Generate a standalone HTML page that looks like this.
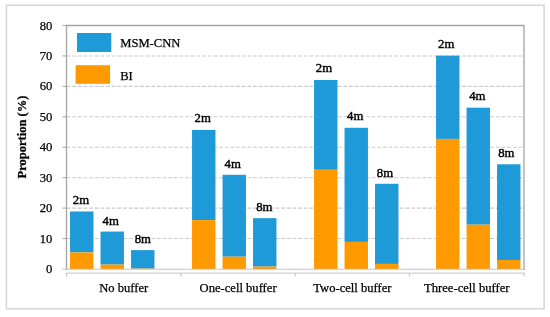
<!DOCTYPE html>
<html><head><meta charset="utf-8"><title>Proportion chart</title>
<style>html,body{margin:0;padding:0;background:#fff}svg{display:block}text{font-family:"Liberation Serif",serif;stroke:#000;stroke-width:0.25px}</style></head>
<body>
<svg width="550" height="317" viewBox="0 0 550 317">
<rect x="0" y="0" width="550" height="317" fill="#fff"/>
<rect x="6.4" y="5.3" width="537.7" height="303.5" fill="none" stroke="#d6d6d6" stroke-width="1.5"/>
<line x1="66.5" y1="238.56" x2="524.0" y2="238.56" stroke="#cbcbcb" stroke-width="1.1" stroke-dasharray="3.9 1.75"/>
<line x1="66.5" y1="208.12" x2="524.0" y2="208.12" stroke="#cbcbcb" stroke-width="1.1" stroke-dasharray="3.9 1.75"/>
<line x1="66.5" y1="177.69" x2="524.0" y2="177.69" stroke="#cbcbcb" stroke-width="1.1" stroke-dasharray="3.9 1.75"/>
<line x1="66.5" y1="147.25" x2="524.0" y2="147.25" stroke="#cbcbcb" stroke-width="1.1" stroke-dasharray="3.9 1.75"/>
<line x1="66.5" y1="116.81" x2="524.0" y2="116.81" stroke="#cbcbcb" stroke-width="1.1" stroke-dasharray="3.9 1.75"/>
<line x1="66.5" y1="86.38" x2="524.0" y2="86.38" stroke="#cbcbcb" stroke-width="1.1" stroke-dasharray="3.9 1.75"/>
<line x1="66.5" y1="55.94" x2="524.0" y2="55.94" stroke="#cbcbcb" stroke-width="1.1" stroke-dasharray="3.9 1.75"/>
<rect x="77" y="33" width="34.3" height="19" fill="#1e9ad8"/>
<rect x="75.6" y="65.2" width="34.5" height="18.6" fill="#ff9900"/>
<text x="120.2" y="46.7" font-size="12.6" fill="#000">MSM-CNN</text>
<text x="120.2" y="79.5" font-size="12.6" fill="#000">BI</text>
<rect x="70.05" y="211.47" width="23.4" height="40.94" fill="#1e9ad8"/>
<rect x="70.05" y="252.41" width="23.4" height="16.59" fill="#ff9900"/>
<text transform="translate(81.00,203.55) scale(0.98,1)" font-size="13" text-anchor="middle" fill="#000" style="stroke-width:0.42px">2m</text>
<rect x="100.55" y="231.56" width="23.4" height="33.02" fill="#1e9ad8"/>
<rect x="100.55" y="264.59" width="23.4" height="4.41" fill="#ff9900"/>
<text transform="translate(110.70,224.75) scale(0.98,1)" font-size="13" text-anchor="middle" fill="#000" style="stroke-width:0.42px">4m</text>
<rect x="131.05" y="250.13" width="23.4" height="18.51" fill="#1e9ad8"/>
<rect x="131.05" y="268.63" width="23.4" height="0.37" fill="#ff9900"/>
<text transform="translate(142.85,242.55) scale(0.98,1)" font-size="13" text-anchor="middle" fill="#000" style="stroke-width:0.42px">8m</text>
<rect x="192.05" y="129.90" width="23.4" height="90.19" fill="#1e9ad8"/>
<rect x="192.05" y="220.09" width="23.4" height="48.91" fill="#ff9900"/>
<text transform="translate(202.70,122.05) scale(0.98,1)" font-size="13" text-anchor="middle" fill="#000" style="stroke-width:0.42px">2m</text>
<rect x="222.55" y="174.80" width="23.4" height="81.91" fill="#1e9ad8"/>
<rect x="222.55" y="256.70" width="23.4" height="12.30" fill="#ff9900"/>
<text transform="translate(232.70,167.85) scale(0.98,1)" font-size="13" text-anchor="middle" fill="#000" style="stroke-width:0.42px">4m</text>
<rect x="253.05" y="218.17" width="23.4" height="48.40" fill="#1e9ad8"/>
<rect x="253.05" y="266.56" width="23.4" height="2.44" fill="#ff9900"/>
<text transform="translate(264.30,211.25) scale(0.98,1)" font-size="13" text-anchor="middle" fill="#000" style="stroke-width:0.42px">8m</text>
<rect x="314.05" y="79.98" width="23.4" height="89.79" fill="#1e9ad8"/>
<rect x="314.05" y="169.77" width="23.4" height="99.23" fill="#ff9900"/>
<text transform="translate(324.00,71.95) scale(0.98,1)" font-size="13" text-anchor="middle" fill="#000" style="stroke-width:0.42px">2m</text>
<rect x="344.55" y="127.77" width="23.4" height="114.14" fill="#1e9ad8"/>
<rect x="344.55" y="241.91" width="23.4" height="27.09" fill="#ff9900"/>
<text transform="translate(355.20,120.15) scale(0.98,1)" font-size="13" text-anchor="middle" fill="#000" style="stroke-width:0.42px">4m</text>
<rect x="375.05" y="183.78" width="23.4" height="80.14" fill="#1e9ad8"/>
<rect x="375.05" y="263.92" width="23.4" height="5.08" fill="#ff9900"/>
<text transform="translate(384.90,177.25) scale(0.98,1)" font-size="13" text-anchor="middle" fill="#000" style="stroke-width:0.42px">8m</text>
<rect x="436.05" y="55.63" width="23.4" height="83.25" fill="#1e9ad8"/>
<rect x="436.05" y="138.88" width="23.4" height="130.12" fill="#ff9900"/>
<text transform="translate(446.20,48.25) scale(0.98,1)" font-size="13" text-anchor="middle" fill="#000" style="stroke-width:0.42px">2m</text>
<rect x="466.55" y="107.68" width="23.4" height="117.00" fill="#1e9ad8"/>
<rect x="466.55" y="224.68" width="23.4" height="44.32" fill="#ff9900"/>
<text transform="translate(477.30,100.25) scale(0.98,1)" font-size="13" text-anchor="middle" fill="#000" style="stroke-width:0.42px">4m</text>
<rect x="497.05" y="164.30" width="23.4" height="95.70" fill="#1e9ad8"/>
<rect x="497.05" y="259.99" width="23.4" height="9.01" fill="#ff9900"/>
<text transform="translate(506.30,157.15) scale(0.98,1)" font-size="13" text-anchor="middle" fill="#000" style="stroke-width:0.42px">8m</text>
<line x1="62.5" y1="269.3" x2="524.6" y2="269.3" stroke="#c4c4c4" stroke-width="1.1"/>
<polyline points="66.5,269.8 66.5,25.5 524.0,25.5 524.0,269.8" fill="none" stroke="#a4a4a4" stroke-width="1.3"/>
<text x="52.3" y="273.00" font-size="12.6" text-anchor="end" fill="#000">0</text>
<line x1="62.5" y1="238.56" x2="66.5" y2="238.56" stroke="#a6a6a6" stroke-width="1"/>
<text x="52.3" y="242.56" font-size="12.6" text-anchor="end" fill="#000">10</text>
<line x1="62.5" y1="208.12" x2="66.5" y2="208.12" stroke="#a6a6a6" stroke-width="1"/>
<text x="52.3" y="212.12" font-size="12.6" text-anchor="end" fill="#000">20</text>
<line x1="62.5" y1="177.69" x2="66.5" y2="177.69" stroke="#a6a6a6" stroke-width="1"/>
<text x="52.3" y="181.69" font-size="12.6" text-anchor="end" fill="#000">30</text>
<line x1="62.5" y1="147.25" x2="66.5" y2="147.25" stroke="#a6a6a6" stroke-width="1"/>
<text x="52.3" y="151.25" font-size="12.6" text-anchor="end" fill="#000">40</text>
<line x1="62.5" y1="116.81" x2="66.5" y2="116.81" stroke="#a6a6a6" stroke-width="1"/>
<text x="52.3" y="120.81" font-size="12.6" text-anchor="end" fill="#000">50</text>
<line x1="62.5" y1="86.38" x2="66.5" y2="86.38" stroke="#a6a6a6" stroke-width="1"/>
<text x="52.3" y="90.38" font-size="12.6" text-anchor="end" fill="#000">60</text>
<line x1="62.5" y1="55.94" x2="66.5" y2="55.94" stroke="#a6a6a6" stroke-width="1"/>
<text x="52.3" y="59.94" font-size="12.6" text-anchor="end" fill="#000">70</text>
<line x1="62.5" y1="25.50" x2="66.5" y2="25.50" stroke="#a6a6a6" stroke-width="1"/>
<text x="52.3" y="29.50" font-size="12.6" text-anchor="end" fill="#000">80</text>
<line x1="66.0" y1="273.1" x2="524.5" y2="273.1" stroke="#d2d2d2" stroke-width="1.3"/>
<line x1="66.50" y1="273" x2="66.50" y2="276.4" stroke="#c0c0c0" stroke-width="1"/>
<line x1="180.88" y1="273" x2="180.88" y2="276.4" stroke="#c0c0c0" stroke-width="1"/>
<line x1="295.25" y1="273" x2="295.25" y2="276.4" stroke="#c0c0c0" stroke-width="1"/>
<line x1="409.62" y1="273" x2="409.62" y2="276.4" stroke="#c0c0c0" stroke-width="1"/>
<line x1="524.00" y1="273" x2="524.00" y2="276.4" stroke="#c0c0c0" stroke-width="1"/>
<text x="123.69" y="291.8" font-size="12.6" text-anchor="middle" fill="#000">No buffer</text>
<text x="238.06" y="291.8" font-size="12.6" text-anchor="middle" fill="#000">One-cell buffer</text>
<text x="352.44" y="291.8" font-size="12.6" text-anchor="middle" fill="#000">Two-cell buffer</text>
<text x="466.81" y="291.8" font-size="12.6" text-anchor="middle" fill="#000">Three-cell buffer</text>
<text transform="translate(26.2,137) rotate(-90)" font-size="12.5" font-weight="bold" text-anchor="middle" fill="#000">Proportion (%)</text>
</svg>
</body></html>
